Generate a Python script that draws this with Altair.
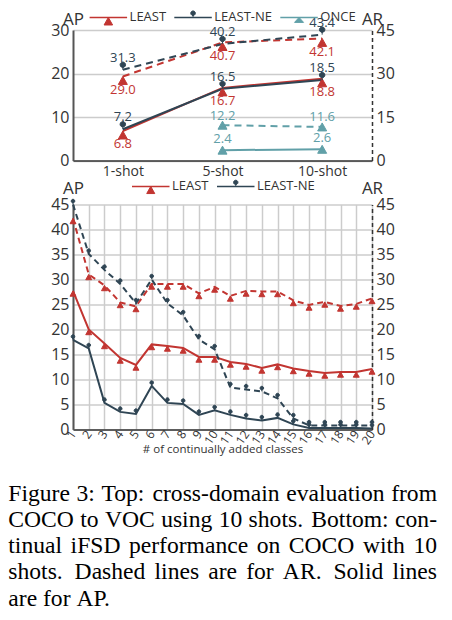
import math
import altair as alt
import pandas as pd

# ---------------- data: top panel (cross-domain COCO -> VOC) ----------------
shots = ["1-shot", "5-shot", "10-shot"]
top_series = ["LEAST", "LEAST-NE", "ONCE"]
top_least_ap = [6.8, 16.7, 18.8]
top_least_ne_ap = [7.2, 16.5, 18.5]
top_once_ap = [None, 2.4, 2.6]
top_least_ar = [29.0, 40.7, 42.1]
top_least_ne_ar = [31.3, 40.2, 43.4]
top_once_ar = [None, 12.2, 11.6]

# ---------------- data: bottom panel (continual iFSD on COCO) ----------------
classes = list(range(1, 21))
bot_series = ["LEAST", "LEAST-NE"]
bot_least_ap = [27.7, 20.0, 17.2, 14.3, 12.9, 17.0, 16.7, 16.3, 14.5, 14.5,
                13.5, 13.1, 12.3, 13.0, 12.2, 11.7, 11.3, 11.5, 11.5, 12.1]
bot_least_ne_ap = [17.9, 16.2, 5.3, 3.5, 3.1, 8.7, 5.3, 5.1, 2.9, 3.8,
                   2.9, 2.2, 1.8, 2.3, 1.0, 0.3, 0.3, 0.3, 0.3, 0.2]
bot_least_ar = [42.2, 31.0, 28.8, 25.4, 24.6, 29.1, 29.1, 29.1, 27.2, 28.5,
                26.7, 27.7, 27.6, 27.6, 25.8, 24.9, 25.5, 24.7, 25.1, 26.2]
bot_least_ne_ar = [45.0, 35.1, 31.9, 29.1, 25.2, 30.0, 25.2, 22.8, 18.0, 16.0,
                   8.4, 8.0, 7.6, 6.2, 2.2, 0.8, 0.8, 0.8, 0.8, 0.8]

caption_lines = [
    "Figure 3: Top: cross-domain evaluation from",
    "COCO to VOC using 10 shots. Bottom: con-",
    "tinual iFSD performance on COCO with 10",
    "shots. Dashed lines are for AR. Solid lines",
    "are for AP.",
]

# ---------------- styles / layout ----------------
RED, DARK, TEAL = "#c23531", "#2f4554", "#61a0a8"
TXT = "#333333"
GRID = "#cccccc"
FONT = "Open Sans"
CAP_FONT = "Liberation Serif"
CAP_SIZE = 23.6
CAP_WIDTH = 428.7
CAP_X0 = -64.7
CAP_Y0 = 28.0
CAP_PITCH = 26.2

W = 299
H_TOP = 130.6
H_BOT = 225
KEY_LINE = 37.5  # legend key line length


def poly_circle(cx, cy, r, n=12):
    pts = [(cx + r * math.cos(2 * math.pi * k / n), cy + r * math.sin(2 * math.pi * k / n)) for k in range(n)]
    return "M" + "L".join(f"{x:.3f},{y:.3f}" for x, y in pts) + "Z"


# marker shapes (unit = sqrt(size)/2 px)
P_TRI_BELOW = "M0,0L0.9,1.6L-0.9,1.6Z"
P_PIN = "M0,0L0,-0.6" + poly_circle(0, -1, 0.55)
P_TRI = "M0,-0.8L0.9,0.8L-0.9,0.8Z"
K_TRI = "M0,0L0.9,1.0L-0.9,1.0Z"


def long_table(xs, names, series_values, xname):
    rows = []
    for name, vals in zip(names, series_values):
        for x, v in zip(xs, vals):
            if v is not None:
                rows.append({xname: x, "series": name, "value": v})
    return pd.DataFrame(rows)


def y_axis(values, orient, title, title_y, grid, dashed):
    kw = dict(values=values, orient=orient, grid=grid, ticks=False,
              labelFont=FONT, labelFontSize=16, labelColor=TXT, labelPadding=4,
              title=title, titleAngle=0, titleX=0, titleY=title_y,
              titleAlign="center", titleBaseline="top", titleFont=FONT,
              titleFontSize=17, titleFontWeight="normal", titleColor=TXT)
    if grid:
        kw.update(gridColor=GRID, gridWidth=1.5)
    if dashed:
        kw.update(domainColor=TXT, domainWidth=1.5, domainDash=[4, 3])
    else:
        kw.update(domainColor="#555555", domainWidth=2)
    return alt.Axis(**kw)


def group(df, x_enc, y_enc, names, colors, marker_paths, dash, msize, labels=None):
    line_kw = dict(strokeWidth=2)
    if dash:
        line_kw["strokeDash"] = dash
    cscale = alt.Scale(domain=names, range=colors)
    layers = [
        alt.Chart(df).mark_line(**line_kw).encode(
            x=x_enc, y=y_enc,
            color=alt.Color("series:N", scale=cscale, legend=None)),
    ]
    for name, col, path in zip(names, colors, marker_paths):
        layers.append(
            alt.Chart(df).transform_filter(alt.datum.series == name)
            .mark_point(filled=True, shape=path, size=msize, opacity=1,
                        color=col, stroke=col, strokeWidth=1)
            .encode(x=x_enc, y=y_enc))
    if labels:
        for name, col in zip(names, colors):
            layers.append(
                alt.Chart(df).transform_filter(alt.datum.series == name)
                .mark_text(dy=labels[name], font=FONT, fontSize=13, color=col)
                .encode(x=x_enc, y=y_enc, text=alt.Text("value:Q", format=".1f")))
    return alt.layer(*layers)


def key_layers(names, colors, paths, sizes, line_starts, key_y):
    """Legend keys: a short line with the series marker, then the series name."""
    layers = []
    for name, col, path, sz, x0 in zip(names, colors, paths, sizes, line_starts):
        base = alt.Chart(pd.DataFrame({"series": [name]}))
        layers.append(base.mark_rule(color=col, strokeWidth=1.5).encode(
            x=alt.value(x0), x2=alt.value(x0 + KEY_LINE), y=alt.value(key_y)))
        layers.append(base.mark_point(shape=path, size=sz, filled=True, opacity=1,
                                      color=col, stroke=col, strokeWidth=1).encode(
            x=alt.value(x0 + KEY_LINE / 2), y=alt.value(key_y)))
        layers.append(base.mark_text(align="left", baseline="middle", font=FONT,
                                     fontSize=13, color=TXT).encode(
            x=alt.value(x0 + KEY_LINE + 2.5), y=alt.value(key_y), text="series:N"))
    return layers


# ---------------- top panel ----------------
top_ap_df = long_table(shots, top_series, [top_least_ap, top_least_ne_ap, top_once_ap], "shot")
top_ar_df = long_table(shots, top_series, [top_least_ar, top_least_ne_ar, top_once_ar], "shot")
top_colors = [RED, DARK, TEAL]
top_markers = [P_TRI_BELOW, P_PIN, P_TRI]

x_top = alt.X("shot:N", sort=shots, scale=alt.Scale(type="point", padding=0.5),
              axis=alt.Axis(title=None, labelAngle=0, labelFont=FONT, labelFontSize=14,
                            labelColor=TXT, labelPadding=4, ticks=False,
                            domainColor=TXT, domainWidth=1.5, grid=False))
y_top_ap = alt.Y("value:Q", scale=alt.Scale(domain=[0, 30], nice=False),
                 axis=y_axis([0, 10, 20, 30], "left", "AP", -18.8, True, False))
y_top_ar = alt.Y("value:Q", scale=alt.Scale(domain=[0, 45], nice=False),
                 axis=y_axis([0, 15, 30, 45], "right", "AR", -18.8, False, True))

top = alt.layer(
    group(top_ap_df, x_top, y_top_ap, top_series, top_colors, top_markers, None, 100,
          labels={"LEAST": 13.5, "LEAST-NE": -12, "ONCE": -11.5}),
    group(top_ar_df, x_top, y_top_ar, top_series, top_colors, top_markers, [7, 5], 100,
          labels={"LEAST": 13.5, "LEAST-NE": -12, "ONCE": -9.5}),
    *key_layers(top_series, top_colors, [P_TRI_BELOW, P_PIN, K_TRI], [90, 70, 100],
                [16.6, 101.3, 207.3], -12.6),
).resolve_scale(y="independent").properties(width=W, height=H_TOP)

# ---------------- bottom panel ----------------
bot_ap_df = long_table(classes, bot_series, [bot_least_ap, bot_least_ne_ap], "cls")
bot_ar_df = long_table(classes, bot_series, [bot_least_ar, bot_least_ne_ar], "cls")
bot_colors = [RED, DARK]
bot_markers = [P_TRI_BELOW, P_PIN]

x_bot = alt.X("cls:Q", scale=alt.Scale(domain=[1, 20], nice=False, zero=False),
              axis=alt.Axis(values=classes, grid=True, gridColor=GRID, gridWidth=1.5,
                            ticks=False, labelAngle=-55, labelFont=FONT, labelFontSize=12,
                            labelColor=TXT, labelPadding=2, labelOverlap=False,
                            domainColor=TXT, domainWidth=1.5,
                            title="# of continually added classes", titleFont=FONT,
                            titleFontSize=11.5, titleFontWeight="normal", titleColor=TXT,
                            titleY=20.5, titleBaseline="middle"))
y_bot_ap = alt.Y("value:Q", scale=alt.Scale(domain=[0, 45], nice=False),
                 axis=y_axis(list(range(0, 46, 5)), "left", "AP", -24, True, False))
y_bot_ar = alt.Y("value:Q", scale=alt.Scale(domain=[0, 45], nice=False),
                 axis=y_axis(list(range(0, 46, 5)), "right", "AR", -24, False, True))

bottom = alt.layer(
    group(bot_ap_df, x_bot, y_bot_ap, bot_series, bot_colors, bot_markers, None, 44),
    group(bot_ar_df, x_bot, y_bot_ar, bot_series, bot_colors, bot_markers, [6, 4], 44),
    *key_layers(bot_series, bot_colors, [P_TRI_BELOW, P_PIN], [80, 64],
                [59.0, 144.0], -18.0),
).resolve_scale(y="independent").properties(width=W, height=H_BOT)

# ---------------- caption (justified with Times metrics) ----------------
TIMES = {" ": 250, "-": 333, ".": 250, ",": 250, ":": 278, ";": 278, "#": 500}
TIMES.update({d: 500 for d in "0123456789"})
TIMES.update(dict(zip("ABCDEFGHIJKLMNOPQRSTUVWXYZ",
                      [722, 667, 667, 722, 611, 556, 722, 722, 333, 389, 722, 611, 889,
                       722, 722, 556, 722, 667, 556, 611, 722, 722, 944, 722, 722, 611])))
TIMES.update(dict(zip("abcdefghijklmnopqrstuvwxyz",
                      [444, 500, 444, 500, 444, 333, 500, 500, 278, 278, 500, 278, 778,
                       500, 500, 500, 500, 333, 389, 278, 500, 500, 722, 500, 500, 444])))


def text_width(s):
    return sum(TIMES.get(c, 500) for c in s) / 1000.0 * CAP_SIZE


cap_rows = []
for i, line in enumerate(caption_lines):
    words = line.split()
    widths = [text_width(w) for w in words]
    justify = i < len(caption_lines) - 1
    if justify:
        weights = [1.3 if w.endswith(".") else 1.0 for w in words[:-1]]
        unit = (CAP_WIDTH - sum(widths)) / sum(weights)
        gaps = [unit * wt for wt in weights]
    else:
        gaps = [text_width(" ")] * (len(words) - 1)
    pos = 0.0
    for j, (w, wd) in enumerate(zip(words, widths)):
        last = justify and j == len(words) - 1
        cap_rows.append({"word": w, "line": i, "pos": CAP_WIDTH if last else pos, "last": last})
        if j < len(gaps):
            pos += wd + gaps[j]
cap_df = pd.DataFrame(cap_rows)

cap_x = alt.X("pos:Q", axis=None,
              scale=alt.Scale(domain=[0, CAP_WIDTH], range=[CAP_X0, CAP_X0 + CAP_WIDTH], nice=False, zero=False))
cap_y = alt.Y("line:Q", axis=None,
              scale=alt.Scale(domain=[0, 4], range=[CAP_Y0, CAP_Y0 + 4 * CAP_PITCH], nice=False, zero=False))
cap_left = alt.Chart(cap_df).transform_filter("!datum.last").mark_text(
    align="left", baseline="alphabetic", font=CAP_FONT, fontSize=CAP_SIZE, color="black"
).encode(x=cap_x, y=cap_y, text="word:N")
cap_right = alt.Chart(cap_df).transform_filter("datum.last").mark_text(
    align="right", baseline="alphabetic", font=CAP_FONT, fontSize=CAP_SIZE, color="black"
).encode(x=cap_x, y=cap_y, text="word:N")
caption = alt.layer(cap_left, cap_right).properties(width=W, height=CAP_Y0 + 4 * CAP_PITCH + 8)

chart = alt.vconcat(top, bottom, caption, spacing=43.4, bounds="flush").resolve_scale(
    x="independent", y="independent", color="independent"
).properties(
    padding={"left": 0, "top": 0, "right": 5, "bottom": 5}
).configure(font=FONT).configure_view(strokeWidth=0, stroke=None)

chart.save("out.html", embed_options={"renderer": "svg", "actions": False})
